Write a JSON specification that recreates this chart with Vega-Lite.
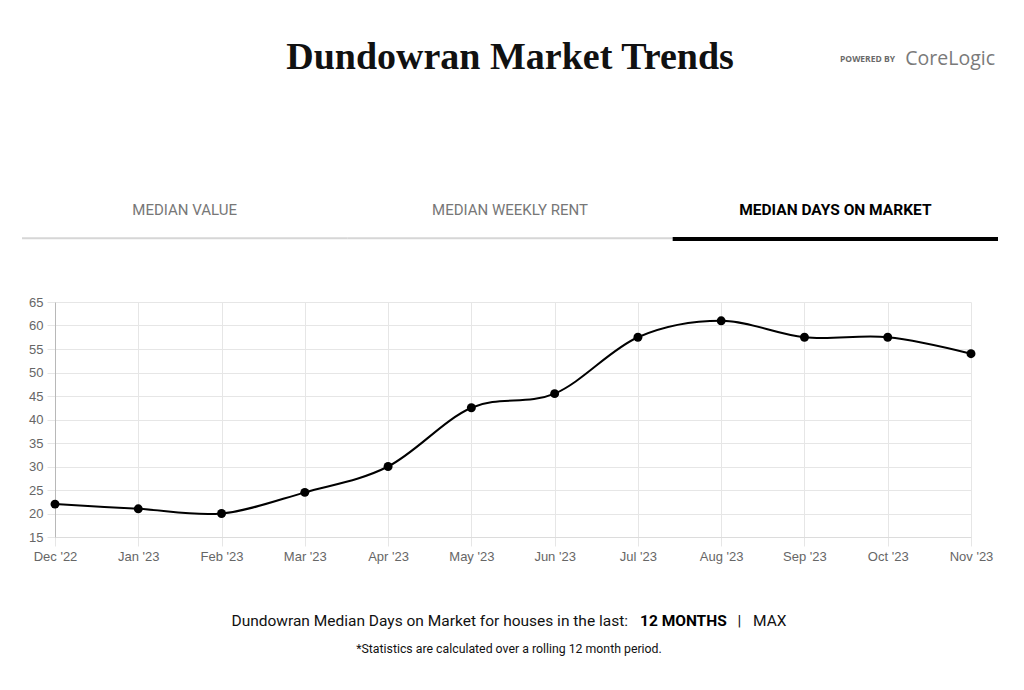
{
  "$schema": "https://vega.github.io/schema/vega-lite/v6.json",
  "background": "white",
  "padding": {"left": 21, "top": 38, "right": 26, "bottom": 10},
  "config": {"view": {"stroke": null}, "font": "Roboto"},
  "datasets": {
    "header": [
      {"role": "title", "text": "Dundowran Market Trends"},
      {"role": "powered", "text": "POWERED BY"},
      {"role": "brand", "text": "CoreLogic"}
    ],
    "tabs": [
      {"tab": "MEDIAN VALUE", "active": false},
      {"tab": "MEDIAN WEEKLY RENT", "active": false},
      {"tab": "MEDIAN DAYS ON MARKET", "active": true}
    ],
    "market": [
      {"month": "Dec '22", "days": 22},
      {"month": "Jan '23", "days": 21},
      {"month": "Feb '23", "days": 20},
      {"month": "Mar '23", "days": 24.5},
      {"month": "Apr '23", "days": 30},
      {"month": "May '23", "days": 42.5},
      {"month": "Jun '23", "days": 45.5},
      {"month": "Jul '23", "days": 57.5},
      {"month": "Aug '23", "days": 61},
      {"month": "Sep '23", "days": 57.5},
      {"month": "Oct '23", "days": 57.5},
      {"month": "Nov '23", "days": 54}
    ],
    "footer": [
      {"role": "lead", "text": "Dundowran Median Days on Market for houses in the last:"},
      {"role": "range", "text": "12 MONTHS"},
      {"role": "sep", "text": "|"},
      {"role": "max", "text": "MAX"},
      {"role": "note", "text": "*Statistics are calculated over a rolling 12 month period."}
    ]
  },
  "columns": 1,
  "spacing": 45,
  "align": "none",
  "bounds": "full",
  "concat": [
    {
      "width": 916,
      "height": 210.5,
      "layer": [
        {
          "data": {"name": "header"},
          "transform": [{"filter": "datum.role === 'title'"}],
          "mark": {"type": "text", "font": "Liberation Serif", "fontSize": 38, "fontWeight": "bold", "color": "#111111", "baseline": "alphabetic", "align": "center"},
          "encoding": {
            "text": {"field": "text"},
            "x": {"datum": "MEDIAN WEEKLY RENT", "type": "nominal", "scale": {"type": "band", "domain": ["MEDIAN VALUE", "MEDIAN WEEKLY RENT", "MEDIAN DAYS ON MARKET"], "range": [-33, 943], "paddingInner": 0, "paddingOuter": 0}, "axis": null},
            "y": {"datum": "title", "type": "nominal", "bandPosition": 0.2755, "scale": {"type": "band", "domain": ["title", "tabs"], "paddingInner": 0, "paddingOuter": 0}, "axis": null}
          }
        },
        {
          "data": {"name": "header"},
          "transform": [{"filter": "datum.role === 'brand'"}],
          "mark": {"type": "text", "font": "Open Sans", "fontSize": 19.5, "color": "#7a7a7a", "baseline": "alphabetic", "align": "right", "dx": -3},
          "encoding": {
            "text": {"field": "text"},
            "x": {"datum": "MEDIAN DAYS ON MARKET", "type": "nominal", "bandPosition": 1, "scale": {"type": "band", "domain": ["MEDIAN VALUE", "MEDIAN WEEKLY RENT", "MEDIAN DAYS ON MARKET"], "range": [-33, 943], "paddingInner": 0, "paddingOuter": 0}, "axis": null},
            "y": {"datum": "title", "type": "nominal", "bandPosition": 0.2375, "scale": {"type": "band", "domain": ["title", "tabs"], "paddingInner": 0, "paddingOuter": 0}, "axis": null}
          }
        },
        {
          "data": {"name": "header"},
          "transform": [{"filter": "datum.role === 'powered'"}],
          "mark": {"type": "text", "font": "Open Sans", "fontSize": 8.5, "fontWeight": "bold", "color": "#6a6a6a", "baseline": "alphabetic", "align": "right", "dx": -103},
          "encoding": {
            "text": {"field": "text"},
            "x": {"datum": "MEDIAN DAYS ON MARKET", "type": "nominal", "bandPosition": 1, "scale": {"type": "band", "domain": ["MEDIAN VALUE", "MEDIAN WEEKLY RENT", "MEDIAN DAYS ON MARKET"], "range": [-33, 943], "paddingInner": 0, "paddingOuter": 0}, "axis": null},
            "y": {"datum": "title", "type": "nominal", "bandPosition": 0.209, "scale": {"type": "band", "domain": ["title", "tabs"], "paddingInner": 0, "paddingOuter": 0}, "axis": null}
          }
        },
        {
          "data": {"name": "tabs"},
          "transform": [{"filter": "!datum.active"}],
          "mark": {"type": "text", "font": "Roboto", "fontSize": 15, "color": "#777777", "baseline": "alphabetic", "align": "center"},
          "encoding": {
            "text": {"field": "tab"},
            "x": {"field": "tab", "type": "nominal", "scale": {"type": "band", "domain": ["MEDIAN VALUE", "MEDIAN WEEKLY RENT", "MEDIAN DAYS ON MARKET"], "range": [-33, 943], "paddingInner": 0, "paddingOuter": 0}, "axis": null},
            "y": {"datum": "tabs", "type": "nominal", "bandPosition": 0.6627, "scale": {"type": "band", "domain": ["title", "tabs"], "paddingInner": 0, "paddingOuter": 0}, "axis": null}
          }
        },
        {
          "data": {"name": "tabs"},
          "transform": [{"filter": "datum.active"}],
          "mark": {"type": "text", "font": "Roboto", "fontSize": 15.5, "fontWeight": "bold", "color": "#000000", "baseline": "alphabetic", "align": "center"},
          "encoding": {
            "text": {"field": "tab"},
            "x": {"field": "tab", "type": "nominal", "scale": {"type": "band", "domain": ["MEDIAN VALUE", "MEDIAN WEEKLY RENT", "MEDIAN DAYS ON MARKET"], "range": [-33, 943], "paddingInner": 0, "paddingOuter": 0}, "axis": null},
            "y": {"datum": "tabs", "type": "nominal", "bandPosition": 0.6627, "scale": {"type": "band", "domain": ["title", "tabs"], "paddingInner": 0, "paddingOuter": 0}, "axis": null}
          }
        },
        {
          "data": {"name": "tabs"},
          "mark": {"type": "rule", "color": "#d6d6d6", "strokeWidth": 2, "strokeCap": "butt"},
          "encoding": {
            "x": {"field": "tab", "type": "nominal", "bandPosition": 0, "scale": {"type": "band", "domain": ["MEDIAN VALUE", "MEDIAN WEEKLY RENT", "MEDIAN DAYS ON MARKET"], "range": [-33, 943], "paddingInner": 0, "paddingOuter": 0}, "axis": null},
            "x2": {"field": "tab", "bandPosition": 1},
            "y": {"datum": "tabs", "type": "nominal", "bandPosition": 0.8831, "scale": {"type": "band", "domain": ["title", "tabs"], "paddingInner": 0, "paddingOuter": 0}, "axis": null}
          }
        },
        {
          "data": {"name": "tabs"},
          "transform": [{"filter": "datum.active"}],
          "mark": {"type": "rule", "color": "#000000", "strokeWidth": 4, "strokeCap": "butt"},
          "encoding": {
            "x": {"field": "tab", "type": "nominal", "bandPosition": 0, "scale": {"type": "band", "domain": ["MEDIAN VALUE", "MEDIAN WEEKLY RENT", "MEDIAN DAYS ON MARKET"], "range": [-33, 943], "paddingInner": 0, "paddingOuter": 0}, "axis": null},
            "x2": {"field": "tab", "bandPosition": 1},
            "y": {"datum": "tabs", "type": "nominal", "bandPosition": 0.8907, "scale": {"type": "band", "domain": ["title", "tabs"], "paddingInner": 0, "paddingOuter": 0}, "axis": null}
          }
        }
      ]
    },
    {
      "width": 916,
      "height": 235,
      "data": {"name": "market"},
      "encoding": {
        "x": {
          "field": "month", "type": "ordinal", "sort": null,
          "scale": {"type": "point", "padding": 0},
          "axis": {"title": null, "labelAngle": 0, "grid": true, "gridColor": "#e6e6e6", "tickColor": "#e6e6e6", "tickSize": 9, "domainColor": "#dcdcdc", "labelPadding": 4, "labelFont": "Liberation Sans", "labelFontSize": 13, "labelColor": "#666666"}
        },
        "y": {
          "field": "days", "type": "quantitative",
          "scale": {"domain": [15, 65], "nice": false, "zero": false},
          "axis": {"title": null, "values": [15, 20, 25, 30, 35, 40, 45, 50, 55, 60, 65], "grid": true, "gridColor": "#e6e6e6", "tickColor": "#e6e6e6", "tickSize": 8, "domainColor": "#b8b8b8", "labelPadding": 4, "labelFont": "Liberation Sans", "labelFontSize": 13, "labelColor": "#666666", "minExtent": 33, "maxExtent": 33}
        }
      },
      "layer": [
        {"mark": {"type": "line", "color": "#000000", "strokeWidth": 2, "interpolate": "cardinal"}},
        {"mark": {"type": "point", "filled": true, "color": "#000000", "size": 80, "opacity": 1}}
      ]
    },
    {
      "width": 916,
      "height": 56,
      "data": {"name": "footer"},
      "layer": [
        {
          "transform": [{"filter": "datum.role === 'lead'"}],
          "mark": {"type": "text", "font": "Roboto", "fontSize": 15.5, "color": "#111111", "align": "right", "baseline": "middle", "dx": 115},
          "encoding": {"text": {"field": "text"}, "y": {"datum": "main", "type": "nominal", "bandPosition": 0.465, "scale": {"type": "band", "domain": ["main", "note"], "paddingInner": 0, "paddingOuter": 0}, "axis": null}}
        },
        {
          "transform": [{"filter": "datum.role === 'range'"}],
          "mark": {"type": "text", "font": "Roboto", "fontSize": 15.5, "fontWeight": "bold", "color": "#000000", "align": "left", "baseline": "middle", "dx": 127},
          "encoding": {"text": {"field": "text"}, "y": {"datum": "main", "type": "nominal", "bandPosition": 0.465, "scale": {"type": "band", "domain": ["main", "note"], "paddingInner": 0, "paddingOuter": 0}, "axis": null}}
        },
        {
          "transform": [{"filter": "datum.role === 'sep'"}],
          "mark": {"type": "text", "font": "Roboto", "fontSize": 15.5, "color": "#111111", "align": "center", "baseline": "middle", "dx": 226.5},
          "encoding": {"text": {"field": "text"}, "y": {"datum": "main", "type": "nominal", "bandPosition": 0.465, "scale": {"type": "band", "domain": ["main", "note"], "paddingInner": 0, "paddingOuter": 0}, "axis": null}}
        },
        {
          "transform": [{"filter": "datum.role === 'max'"}],
          "mark": {"type": "text", "font": "Roboto", "fontSize": 15.5, "color": "#111111", "align": "left", "baseline": "middle", "dx": 240},
          "encoding": {"text": {"field": "text"}, "y": {"datum": "main", "type": "nominal", "bandPosition": 0.465, "scale": {"type": "band", "domain": ["main", "note"], "paddingInner": 0, "paddingOuter": 0}, "axis": null}}
        },
        {
          "transform": [{"filter": "datum.role === 'note'"}],
          "mark": {"type": "text", "font": "Roboto", "fontSize": 12.3, "color": "#111111", "align": "center", "baseline": "middle", "dx": -4},
          "encoding": {"text": {"field": "text"}, "y": {"datum": "note", "type": "nominal", "bandPosition": 0.465, "scale": {"type": "band", "domain": ["main", "note"], "paddingInner": 0, "paddingOuter": 0}, "axis": null}}
        }
      ]
    }
  ]
}
